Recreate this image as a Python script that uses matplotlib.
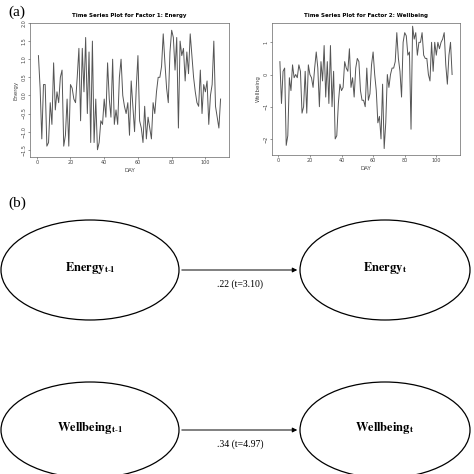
import matplotlib
matplotlib.use("Agg")
import matplotlib.pyplot as plt
from matplotlib.patches import Ellipse
import numpy as np

energy = [1.1,0.2,-1.2,0.3,0.3,-1.4,-1.3,-0.2,-0.8,0.9,-0.4,0.1,-0.2,0.5,0.7,-1.4,-1.1,-0.1,-1.4,0.3,
          0.2,-0.1,-0.2,0.5,1.3,-0.7,1.3,0.1,1.6,-0.5,1.2,-1.3,1.5,-1.3,-0.1,-1.5,-1.3,-0.7,-0.8,-0.1,
          -0.6,0.9,-0.1,-0.6,1.0,-0.8,-0.4,-0.8,0.5,1.0,0.0,-0.3,-0.5,-0.2,-1.1,0.4,-0.3,-1.0,0.2,1.1,
          -0.7,-0.9,-1.3,-0.3,-1.2,-0.6,-0.9,-1.2,-0.2,-0.5,0.1,0.5,0.5,0.8,1.7,0.9,0.2,-0.2,1.2,1.8,
          1.6,0.7,1.6,-0.9,1.5,1.1,1.3,0.4,1.2,0.6,1.7,1.1,0.5,0.1,-0.2,-0.3,0.7,-0.5,0.3,0.1,
          0.4,-0.8,0.0,0.3,1.5,-0.3,-0.6,-0.9,-0.1]
wellbeing = [0.4,-0.9,0.1,0.2,-2.2,-1.9,-0.1,-0.5,0.3,-0.1,0.0,-0.1,0.3,0.1,-1.2,-1.0,0.1,-1.2,0.3,0.0,
             -0.1,-0.4,0.2,0.7,0.2,-1.0,0.4,-0.2,0.9,-0.7,0.4,-0.9,0.9,-1.0,0.1,-2.0,-1.9,-0.9,-0.3,-0.5,
             -0.4,0.4,0.2,0.1,0.8,-0.4,-0.1,-0.7,0.2,0.5,0.4,-0.5,-0.8,-0.8,-1.0,0.2,-0.8,-0.6,0.3,0.7,
             0.0,-0.5,-1.5,-1.3,-2.0,-0.3,-2.3,-1.5,0.0,-0.4,0.0,0.2,0.2,0.4,1.3,0.5,0.1,-0.7,1.0,1.3,
             1.2,0.6,0.7,-1.7,1.5,1.1,1.3,0.6,1.0,1.0,1.3,0.6,0.5,0.5,0.0,-0.2,1.0,0.1,1.0,0.6,
             1.0,0.8,1.0,1.1,1.3,0.3,-0.3,0.6,1.0,0.0]
days_e = np.arange(1, len(energy) + 1)
days_w = np.arange(1, len(wellbeing) + 1)

fig = plt.figure(figsize=(4.74, 4.74), dpi=100)
W = H = 474.0

def axes_px(x0, y0, x1, y1):
    return fig.add_axes([x0 / W, 1 - y1 / H, (x1 - x0) / W, (y1 - y0) / H])

def style(ax, title, ylabel):
    ax.set_title(title, fontsize=4, fontweight="bold", pad=4)
    ax.set_xlabel("DAY", fontsize=4, labelpad=2, color="#444444")
    ax.set_ylabel(ylabel, fontsize=4, labelpad=2, color="#444444")
    ax.tick_params(labelsize=3.5, length=1.5, width=0.4, pad=1, colors="#444444")
    for lab in ax.get_yticklabels():
        lab.set_rotation(90); lab.set_va("center")
    for s in ax.spines.values():
        s.set_linewidth(0.5); s.set_color("#666666")
    ax.set_xticks([0, 20, 40, 60, 80, 100])

ax1 = axes_px(30, 23, 229, 157)
ax1.plot(days_e, energy, color="#555555", lw=0.7)
ax1.set_xlim(-4, 114); ax1.set_ylim(-1.7, 2.0)
ax1.set_yticks([-1.5, -1.0, -0.5, 0.0, 0.5, 1.0, 1.5, 2.0])
style(ax1, "Time Series Plot for Factor 1: Energy", "Energy")

ax2 = axes_px(272, 23, 460, 155)
ax2.plot(days_w, wellbeing, color="#555555", lw=0.7)
ax2.set_xlim(-4, 115); ax2.set_ylim(-2.5, 1.6)
ax2.set_yticks([-2, -1, 0, 1])
style(ax2, "Time Series Plot for Factor 2: Wellbeing", "Wellbeing")

plt.rcParams["mathtext.fontset"] = "stix"
axb = fig.add_axes([0, 0, 1, 1])
axb.set_xlim(0, W); axb.set_ylim(H, 0); axb.axis("off")
serif = "Liberation Serif"
fig.text(8 / W, 1 - 12 / H, "(a)", fontsize=11, family=serif, va="center")
fig.text(8 / W, 1 - 203 / H, "(b)", fontsize=11, family=serif, va="center")

ells = [(90, 270, 178, 100), (385, 270, 170, 100), (90, 430, 178, 96), (385, 430, 170, 96)]
for cx, cy, w, h in ells:
    axb.add_patch(Ellipse((cx, cy), w, h, fill=False, lw=0.9, ec="black"))
labels = [r"$\mathbf{Energy}_{\mathbf{t\text{-}1}}$", r"$\mathbf{Energy}_{\mathbf{t}}$",
          r"$\mathbf{Wellbeing}_{\mathbf{t\text{-}1}}$", r"$\mathbf{Wellbeing}_{\mathbf{t}}$"]
for (cx, cy, w, h), lab in zip(ells, labels):
    axb.text(cx, cy - 2, lab, fontsize=9, ha="center", va="center")
for y, lab in [(270, ".22 (t=3.10)"), (430, ".34 (t=4.97)")]:
    axb.annotate("", xy=(300, y), xytext=(179, y),
                 arrowprops=dict(arrowstyle="-|>", lw=0.7, color="black", mutation_scale=7))
    axb.text(240, y + 14, lab, fontsize=7, ha="center", va="center", family=serif)

fig.savefig("out.png", dpi=100)
